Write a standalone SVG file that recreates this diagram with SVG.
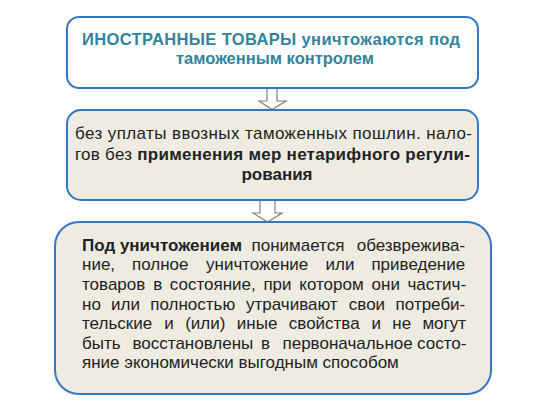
<svg xmlns="http://www.w3.org/2000/svg" width="547" height="402" viewBox="0 0 547 402">
<style>
.box{stroke:#3576c4;stroke-width:2}
.b1{fill:#ffffff}
.b2{fill:#eeece1}
.arr{fill:#ffffff;stroke:#7f7f7f;stroke-width:1.2;stroke-linejoin:miter}
.t1{font-family:"Liberation Sans",Arial,sans-serif;font-size:16.5px;font-weight:bold;fill:#31849b}
.t{font-family:"Liberation Sans",Arial,sans-serif;font-size:17px;fill:#222222}
.bd{font-weight:bold}
</style>
<rect width="547" height="402" fill="#ffffff"/>
<g id="connectors">
<path class="arr" d="M267,88 V101 H259 L272,109.5 L286,101 H277 V88"/>
<path class="arr" d="M260,200 V213 H253 L267.5,222 L282,213 H275 V200"/>
</g>
<g id="node1">
<rect class="box b1" x="67" y="17" width="411" height="71" rx="12"/>
<text class="t1" x="271" y="44.5" text-anchor="middle" textLength="378" lengthAdjust="spacing">ИНОСТРАННЫЕ ТОВАРЫ уничтожаются под</text>
<text class="t1" x="275" y="63.5" text-anchor="middle">таможенным контролем</text>
</g>
<g id="node2">
<rect class="box b2" x="67" y="110" width="411" height="90" rx="14"/>
<text class="t" x="75" y="139" textLength="397" lengthAdjust="spacing">без уплаты ввозных таможенных пошлин. нало-</text>
<text class="t" x="75" y="160" textLength="395" lengthAdjust="spacing">гов без <tspan class="bd">применения мер нетарифного регули-</tspan></text>
<text class="t bd" x="277" y="180" text-anchor="middle">рования</text>
</g>
<g id="node3">
<rect class="box b2" x="55" y="222" width="436" height="172" rx="24"/>
<text class="t" y="250.7"><tspan class="bd" x="82">Под уничтожением</tspan><tspan x="251.5">понимается</tspan><tspan x="356.7">обезврежива-</tspan></text>
<text class="t" y="270.3"><tspan x="82">ние,</tspan><tspan x="132">полное</tspan><tspan x="206">уничтожение</tspan><tspan x="325.5">или</tspan><tspan x="371.4">приведение</tspan></text>
<text class="t" y="289.9"><tspan x="82">товаров</tspan><tspan x="153.2">в</tspan><tspan x="169.8">состояние,</tspan><tspan x="263.4">при</tspan><tspan x="299.3">котором</tspan><tspan x="371.6">они</tspan><tspan x="407.5">частич-</tspan></text>
<text class="t" y="309.5"><tspan x="82">но</tspan><tspan x="111.1">или</tspan><tspan x="150.2">полностью</tspan><tspan x="246">утрачивают</tspan><tspan x="348.8">свои</tspan><tspan x="395.6">потреби-</tspan></text>
<text class="t" y="329.1"><tspan x="82">тельские</tspan><tspan x="164.3">и</tspan><tspan x="185.2">(или)</tspan><tspan x="236.8">иные</tspan><tspan x="288.8">свойства</tspan><tspan x="371.4">и</tspan><tspan x="392.3">не</tspan><tspan x="422.4">могут</tspan></text>
<text class="t" y="348.7"><tspan x="82">быть</tspan><tspan x="132.5">восстановлены</tspan><tspan x="261">в</tspan><tspan x="282.5">первоначальное</tspan><tspan x="417">состо-</tspan></text>
<text class="t" x="82" y="368.3">яние экономически выгодным способом</text>
</g>
</svg>
